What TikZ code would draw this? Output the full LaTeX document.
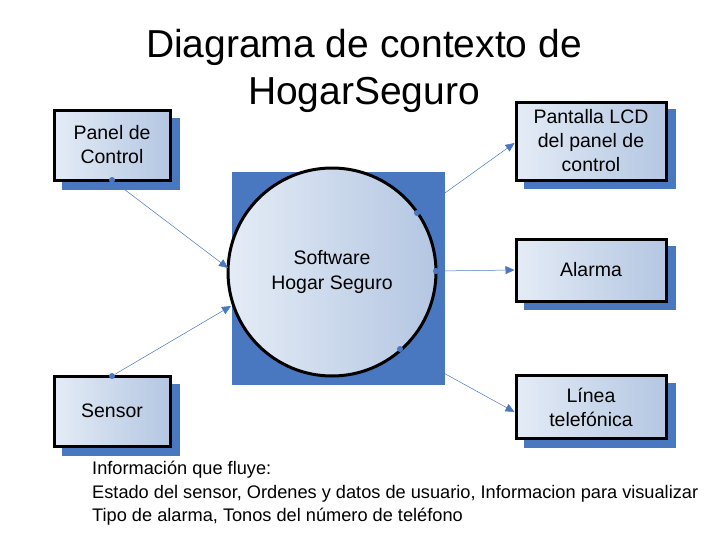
\documentclass[tikz,border=0pt]{standalone}
\usepackage{fontspec}
\setmainfont{Liberation Sans}
\usetikzlibrary{arrows.meta}
\definecolor{sblue}{HTML}{4A78C0}
\definecolor{lblue}{HTML}{B4C6E2}
\definecolor{wblue}{HTML}{E4ECF6}
\begin{document}
\begin{tikzpicture}[x=1pt,y=-1pt,
 ent/.style={draw=black,line width=3pt,left color=wblue,right color=lblue,minimum width=115pt,align=center,font=\fontsize{19.5}{24}\selectfont,inner sep=0pt},
 flow/.style={draw=sblue,line width=0.5pt,-{Triangle[length=9pt,width=8pt]}},
 dotc/.style={circle,fill=sblue,inner sep=0pt,minimum size=6pt}]
\useasboundingbox (0,0) rectangle (728,546);
\node[font=\fontsize{39}{47}\selectfont,align=center] (title) at (364,71) {Diagrama de contexto de\\HogarSeguro};
% shadows
\fill[sblue] (62,118) rectangle (180,190);
\fill[sblue] (62,384) rectangle (180,456);
\fill[sblue] (524,109) rectangle (676,189);
\fill[sblue] (524,246) rectangle (676,310);
\fill[sblue] (524,383) rectangle (676,448);
\fill[sblue] (232,172) rectangle (445,385);
\node[ent,minimum width=116pt,minimum height=70pt] (panel) at (112,145) {Panel de\\Control};
\node[ent,minimum width=116pt,minimum height=70pt] (sensor) at (112,411) {Sensor};
\node[ent,minimum width=150pt,minimum height=78pt] (lcd) at (591,141) {Pantalla LCD\\del panel de\\control};
\node[ent,minimum width=150pt,minimum height=62pt] (alarma) at (591,270) {Alarma};
\node[ent,minimum width=150pt,minimum height=63pt] (linea) at (591,407) {Línea\\telefónica};
\node[circle,draw=black,line width=3pt,left color=wblue,right color=lblue,minimum size=208pt,align=center,font=\fontsize{19.5}{25}\selectfont] (sw) at (332,272) {Software\\Hogar Seguro};
\node[dotc] (d1) at (112,180) {};
\node[dotc] (d2) at (112,376) {};
\node[dotc] (d3) at (417,213) {};
\node[dotc] (d4) at (436,271) {};
\node[dotc] (d5) at (400,349) {};
\coordinate (a1) at (228,268);
\coordinate (a2) at (231,306);
\draw[flow] (d1) -- (a1);
\draw[flow] (d2) -- (a2);
\draw[flow] (d3) -- (lcd.west|-143,143);
\draw[flow] (d4) -- (alarma.west);
\draw[flow] (d5) -- (linea.west|-412,412);
\node[anchor=north west,align=left,font=\fontsize{18.2}{23.5}\selectfont,inner sep=0pt] (info) at (92,461) {Información que fluye:\\Estado del sensor, Ordenes y datos de usuario, Informacion para visualizar\\Tipo de alarma, Tonos del número de teléfono};
\end{tikzpicture}
\end{document}
